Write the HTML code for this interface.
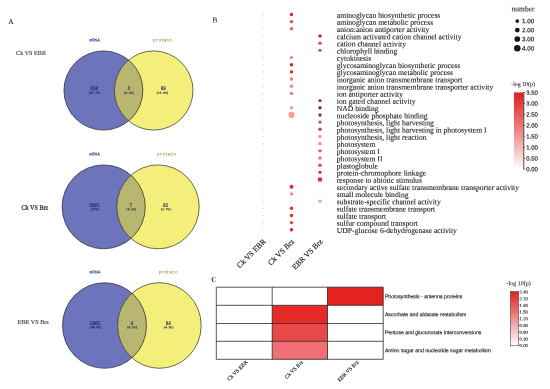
<!DOCTYPE html>
<html><head><meta charset="utf-8"><title>Figure</title>
<style>html,body{margin:0;padding:0;background:#fff}svg{display:block;text-rendering:geometricPrecision}.s{font-family:"Liberation Serif",serif}.a{font-family:"Liberation Sans",sans-serif}.m{font-family:"Liberation Mono",monospace}</style></head>
<body>
<svg width="550" height="389" viewBox="0 0 550 389">
<rect width="550" height="389" fill="#fff"/>
<text class="s" x="8.2" y="24" font-size="7.4" fill="#222" stroke="#222" stroke-width="0.12" transform="rotate(0.03 8.2 24)">A</text>
<text class="s" x="212.6" y="22.2" font-size="7.2" fill="#222" stroke="#222" stroke-width="0.12" transform="rotate(0.03 212.6 22.2)">B</text>
<text class="s" x="211.2" y="281.8" font-size="6.8" font-weight="bold" fill="#222" transform="rotate(0.03 211.2 281.8)">C</text>
<clipPath id="c0"><ellipse cx="153.7" cy="90.5" rx="39.3" ry="39.6"/></clipPath>
<ellipse cx="103.4" cy="90.5" rx="39.45" ry="39.6" fill="#6c74bb"/>
<ellipse cx="153.7" cy="90.5" rx="39.3" ry="39.6" fill="#f4ee7a"/>
<ellipse cx="103.4" cy="90.5" rx="39.45" ry="39.6" fill="#b9b672" clip-path="url(#c0)"/>
<ellipse cx="103.4" cy="90.5" rx="39.45" ry="39.6" fill="none" stroke="#20202c" stroke-width="0.7"/>
<ellipse cx="153.7" cy="90.5" rx="39.3" ry="39.6" fill="none" stroke="#2c2c1c" stroke-width="0.7"/>
<text class="s" x="16.1" y="55" font-size="6.15" fill="#333" stroke="#333" stroke-width="0.12" transform="rotate(0.03 16.1 55)">Ck VS EBR</text>
<text class="m" x="94.6" y="41.5" font-size="4.5" text-anchor="middle" fill="#3550a0" stroke="#3550a0" stroke-width="0.15" transform="rotate(0.03 94.6 41.5)">mRNA</text>
<text class="m" x="162.5" y="41.5" font-size="4.5" text-anchor="middle" fill="#a3a560" stroke="#a3a560" stroke-width="0.12" transform="rotate(0.03 162.5 41.5)">protein</text>
<text class="m" transform="translate(94.2,90.20) scale(0.77,1)" x="0" y="0" font-size="5.6" text-anchor="middle" fill="#26265c" stroke="#26265c" stroke-width="0.18">658</text>
<text class="m" x="94.5" y="93.80" font-size="2.9" font-weight="bold" text-anchor="middle" fill="#24243c" stroke="#24243c" stroke-width="0.08" transform="rotate(0.03 94.5 93.80)">(87.7%)</text>
<text class="m" transform="translate(128.8,90.20) scale(0.77,1)" x="0" y="0" font-size="5.6" text-anchor="middle" fill="#26265c" stroke="#26265c" stroke-width="0.18">3</text>
<text class="m" x="129.1" y="93.80" font-size="2.9" font-weight="bold" text-anchor="middle" fill="#24243c" stroke="#24243c" stroke-width="0.08" transform="rotate(0.03 129.1 93.80)">(0.4%)</text>
<text class="m" transform="translate(163.3,90.20) scale(0.77,1)" x="0" y="0" font-size="5.6" text-anchor="middle" fill="#26265c" stroke="#26265c" stroke-width="0.18">89</text>
<text class="m" x="162.4" y="93.80" font-size="2.9" font-weight="bold" text-anchor="middle" fill="#24243c" stroke="#24243c" stroke-width="0.08" transform="rotate(0.03 162.4 93.80)">(11.9%)</text>
<clipPath id="c1"><ellipse cx="158.0" cy="206.85" rx="41.2" ry="41.95"/></clipPath>
<ellipse cx="103.7" cy="206.85" rx="41.6" ry="41.95" fill="#6c74bb"/>
<ellipse cx="158.0" cy="206.85" rx="41.2" ry="41.95" fill="#f4ee7a"/>
<ellipse cx="103.7" cy="206.85" rx="41.6" ry="41.95" fill="#b9b672" clip-path="url(#c1)"/>
<ellipse cx="103.7" cy="206.85" rx="41.6" ry="41.95" fill="none" stroke="#20202c" stroke-width="0.7"/>
<ellipse cx="158.0" cy="206.85" rx="41.2" ry="41.95" fill="none" stroke="#2c2c1c" stroke-width="0.7"/>
<text class="s" x="21.5" y="209.5" font-size="6.15" fill="#333" stroke="#333" stroke-width="0.28" transform="rotate(0.03 21.5 209.5)">Ck VS Brz</text>
<text class="m" x="94.6" y="155.6" font-size="4.5" text-anchor="middle" fill="#3550a0" stroke="#3550a0" stroke-width="0.15" transform="rotate(0.03 94.6 155.6)">mRNA</text>
<text class="m" x="166.5" y="155.6" font-size="4.5" text-anchor="middle" fill="#a3a560" stroke="#a3a560" stroke-width="0.12" transform="rotate(0.03 166.5 155.6)">protein</text>
<text class="m" transform="translate(94.5,206.65) scale(0.77,1)" x="0" y="0" font-size="5.6" text-anchor="middle" fill="#26265c" stroke="#26265c" stroke-width="0.18">2981</text>
<text class="m" x="94.8" y="210.25" font-size="2.9" font-weight="bold" text-anchor="middle" fill="#24243c" stroke="#24243c" stroke-width="0.08" transform="rotate(0.03 94.8 210.25)">(97%)</text>
<text class="m" transform="translate(130.9,206.65) scale(0.77,1)" x="0" y="0" font-size="5.6" text-anchor="middle" fill="#26265c" stroke="#26265c" stroke-width="0.18">7</text>
<text class="m" x="131.2" y="210.25" font-size="2.9" font-weight="bold" text-anchor="middle" fill="#24243c" stroke="#24243c" stroke-width="0.08" transform="rotate(0.03 131.2 210.25)">(0.2%)</text>
<text class="m" transform="translate(165.5,206.65) scale(0.77,1)" x="0" y="0" font-size="5.6" text-anchor="middle" fill="#26265c" stroke="#26265c" stroke-width="0.18">82</text>
<text class="m" x="165.8" y="210.25" font-size="2.9" font-weight="bold" text-anchor="middle" fill="#24243c" stroke="#24243c" stroke-width="0.08" transform="rotate(0.03 165.8 210.25)">(2.7%)</text>
<clipPath id="c2"><ellipse cx="159.4" cy="325.5" rx="41.8" ry="42.8"/></clipPath>
<ellipse cx="104.5" cy="325.5" rx="42.0" ry="42.8" fill="#6c74bb"/>
<ellipse cx="159.4" cy="325.5" rx="41.8" ry="42.8" fill="#f4ee7a"/>
<ellipse cx="104.5" cy="325.5" rx="42.0" ry="42.8" fill="#b9b672" clip-path="url(#c2)"/>
<ellipse cx="104.5" cy="325.5" rx="42.0" ry="42.8" fill="none" stroke="#20202c" stroke-width="0.7"/>
<ellipse cx="159.4" cy="325.5" rx="41.8" ry="42.8" fill="none" stroke="#2c2c1c" stroke-width="0.7"/>
<text class="s" x="17.4" y="324.1" font-size="6.15" fill="#333" stroke="#333" stroke-width="0.12" transform="rotate(0.03 17.4 324.1)">EBR VS Brz</text>
<text class="m" x="95" y="273.4" font-size="4.5" text-anchor="middle" fill="#3550a0" stroke="#3550a0" stroke-width="0.15" transform="rotate(0.03 95 273.4)">mRNA</text>
<text class="m" x="168.2" y="273.4" font-size="4.5" text-anchor="middle" fill="#a3a560" stroke="#a3a560" stroke-width="0.12" transform="rotate(0.03 168.2 273.4)">protein</text>
<text class="m" transform="translate(95.0,324.70) scale(0.77,1)" x="0" y="0" font-size="5.6" text-anchor="middle" fill="#26265c" stroke="#26265c" stroke-width="0.18">1862</text>
<text class="m" x="95.3" y="328.30" font-size="2.9" font-weight="bold" text-anchor="middle" fill="#24243c" stroke="#24243c" stroke-width="0.08" transform="rotate(0.03 95.3 328.30)">(95.5%)</text>
<text class="m" transform="translate(131.8,324.70) scale(0.77,1)" x="0" y="0" font-size="5.6" text-anchor="middle" fill="#26265c" stroke="#26265c" stroke-width="0.18">4</text>
<text class="m" x="132.1" y="328.30" font-size="2.9" font-weight="bold" text-anchor="middle" fill="#24243c" stroke="#24243c" stroke-width="0.08" transform="rotate(0.03 132.1 328.30)">(0.2%)</text>
<text class="m" transform="translate(168.3,324.70) scale(0.77,1)" x="0" y="0" font-size="5.6" text-anchor="middle" fill="#26265c" stroke="#26265c" stroke-width="0.18">84</text>
<text class="m" x="168.6" y="328.30" font-size="2.9" font-weight="bold" text-anchor="middle" fill="#24243c" stroke="#24243c" stroke-width="0.08" transform="rotate(0.03 168.6 328.30)">(4.3%)</text>
<circle cx="263.1" cy="14.45" r="0.5" fill="#b8b8b8"/>
<circle cx="291.5" cy="14.45" r="1.7" fill="#e02020"/>
<text class="s" x="336.8" y="17.65" font-size="7.65" fill="#1a1a1a" stroke="#1a1a1a" stroke-width="0.1" transform="rotate(0.03 336.8 17.65)">aminoglycan biosynthetic process</text>
<circle cx="263.1" cy="21.63" r="0.5" fill="#b8b8b8"/>
<circle cx="291.5" cy="21.63" r="1.7" fill="#e64d4d"/>
<text class="s" x="336.8" y="24.83" font-size="7.65" fill="#1a1a1a" stroke="#1a1a1a" stroke-width="0.1" transform="rotate(0.03 336.8 24.83)">aminoglycan metabolic process</text>
<circle cx="263.1" cy="28.81" r="0.5" fill="#b8b8b8"/>
<circle cx="291.5" cy="28.81" r="1.7" fill="#e96363"/>
<text class="s" x="336.8" y="32.01" font-size="7.65" fill="#1a1a1a" stroke="#1a1a1a" stroke-width="0.1" transform="rotate(0.03 336.8 32.01)">anion:anion antiporter activity</text>
<circle cx="263.1" cy="35.98" r="0.5" fill="#b8b8b8"/>
<circle cx="320.0" cy="35.98" r="1.7" fill="#e02020"/>
<text class="s" x="336.8" y="39.18" font-size="7.65" fill="#1a1a1a" stroke="#1a1a1a" stroke-width="0.1" transform="rotate(0.03 336.8 39.18)">calcium activated cation channel activity</text>
<circle cx="263.1" cy="43.16" r="0.5" fill="#b8b8b8"/>
<circle cx="320.0" cy="43.16" r="1.7" fill="#e54141"/>
<text class="s" x="336.8" y="46.36" font-size="7.65" fill="#1a1a1a" stroke="#1a1a1a" stroke-width="0.1" transform="rotate(0.03 336.8 46.36)">cation channel activity</text>
<circle cx="263.1" cy="50.34" r="0.5" fill="#b8b8b8"/>
<circle cx="320.0" cy="50.34" r="1.7" fill="#e64d4d"/>
<text class="s" x="336.8" y="53.54" font-size="7.65" fill="#1a1a1a" stroke="#1a1a1a" stroke-width="0.1" transform="rotate(0.03 336.8 53.54)">chlorophyll binding</text>
<circle cx="263.1" cy="57.52" r="0.5" fill="#b8b8b8"/>
<circle cx="291.5" cy="57.52" r="1.7" fill="#f09090"/>
<text class="s" x="336.8" y="60.72" font-size="7.65" fill="#1a1a1a" stroke="#1a1a1a" stroke-width="0.1" transform="rotate(0.03 336.8 60.72)">cytokinesis</text>
<circle cx="263.1" cy="64.7" r="0.5" fill="#b8b8b8"/>
<circle cx="291.5" cy="64.7" r="1.7" fill="#e02020"/>
<text class="s" x="336.8" y="67.9" font-size="7.65" fill="#1a1a1a" stroke="#1a1a1a" stroke-width="0.1" transform="rotate(0.03 336.8 67.9)">glycosaminoglycan biosynthetic process</text>
<circle cx="263.1" cy="71.87" r="0.5" fill="#b8b8b8"/>
<circle cx="291.5" cy="71.87" r="1.7" fill="#e02020"/>
<text class="s" x="336.8" y="75.07" font-size="7.65" fill="#1a1a1a" stroke="#1a1a1a" stroke-width="0.1" transform="rotate(0.03 336.8 75.07)">glycosaminoglycan metabolic process</text>
<circle cx="263.1" cy="79.05" r="0.5" fill="#b8b8b8"/>
<circle cx="291.5" cy="79.05" r="1.7" fill="#ec7979"/>
<text class="s" x="336.8" y="82.25" font-size="7.65" fill="#1a1a1a" stroke="#1a1a1a" stroke-width="0.1" transform="rotate(0.03 336.8 82.25)">inorganic anion transmembrane transport</text>
<circle cx="263.1" cy="86.23" r="0.5" fill="#b8b8b8"/>
<circle cx="291.5" cy="86.23" r="1.7" fill="#ee8484"/>
<text class="s" x="336.8" y="89.43" font-size="7.65" fill="#1a1a1a" stroke="#1a1a1a" stroke-width="0.1" transform="rotate(0.03 336.8 89.43)">inorganic anion transmembrane transporter activity</text>
<circle cx="263.1" cy="93.41" r="0.5" fill="#b8b8b8"/>
<circle cx="291.5" cy="93.41" r="1.7" fill="#ec7979"/>
<text class="s" x="336.8" y="96.61" font-size="7.65" fill="#1a1a1a" stroke="#1a1a1a" stroke-width="0.1" transform="rotate(0.03 336.8 96.61)">ion antiporter activity</text>
<circle cx="263.1" cy="100.59" r="0.5" fill="#b8b8b8"/>
<circle cx="320.0" cy="100.59" r="1.7" fill="#e02020"/>
<text class="s" x="336.8" y="103.79" font-size="7.65" fill="#1a1a1a" stroke="#1a1a1a" stroke-width="0.1" transform="rotate(0.03 336.8 103.79)">ion gated channel activity</text>
<circle cx="263.1" cy="107.76" r="0.5" fill="#b8b8b8"/>
<circle cx="291.5" cy="107.76" r="1.7" fill="#f19b9b"/>
<circle cx="320.0" cy="107.76" r="1.7" fill="#4a4a4a"/>
<text class="s" x="336.8" y="110.96" font-size="7.65" fill="#1a1a1a" stroke="#1a1a1a" stroke-width="0.1" transform="rotate(0.03 336.8 110.96)">NAD binding</text>
<circle cx="263.1" cy="114.94" r="0.5" fill="#b8b8b8"/>
<circle cx="291.5" cy="114.94" r="3.1" fill="#f2a1a1"/>
<circle cx="320.0" cy="114.94" r="1.7" fill="#4a4a4a"/>
<text class="s" x="336.8" y="118.14" font-size="7.65" fill="#1a1a1a" stroke="#1a1a1a" stroke-width="0.1" transform="rotate(0.03 336.8 118.14)">nucleoside phosphate binding</text>
<circle cx="263.1" cy="122.12" r="0.5" fill="#b8b8b8"/>
<circle cx="320.0" cy="122.12" r="1.7" fill="#e54141"/>
<text class="s" x="336.8" y="125.32" font-size="7.65" fill="#1a1a1a" stroke="#1a1a1a" stroke-width="0.1" transform="rotate(0.03 336.8 125.32)">photosynthesis, light harvesting</text>
<circle cx="263.1" cy="129.3" r="0.5" fill="#b8b8b8"/>
<circle cx="320.0" cy="129.3" r="1.7" fill="#e33636"/>
<text class="s" x="336.8" y="132.5" font-size="7.65" fill="#1a1a1a" stroke="#1a1a1a" stroke-width="0.1" transform="rotate(0.03 336.8 132.5)">photosynthesis, light harvesting in photosystem I</text>
<circle cx="263.1" cy="136.48" r="0.5" fill="#b8b8b8"/>
<circle cx="320.0" cy="136.48" r="1.7" fill="#f09090"/>
<text class="s" x="336.8" y="139.68" font-size="7.65" fill="#1a1a1a" stroke="#1a1a1a" stroke-width="0.1" transform="rotate(0.03 336.8 139.68)">photosynthesis, light reaction</text>
<circle cx="263.1" cy="143.65" r="0.5" fill="#b8b8b8"/>
<circle cx="320.0" cy="143.65" r="1.7" fill="#f09090"/>
<text class="s" x="336.8" y="146.85" font-size="7.65" fill="#1a1a1a" stroke="#1a1a1a" stroke-width="0.1" transform="rotate(0.03 336.8 146.85)">photosystem</text>
<circle cx="263.1" cy="150.83" r="0.5" fill="#b8b8b8"/>
<circle cx="320.0" cy="150.83" r="1.7" fill="#e85858"/>
<text class="s" x="336.8" y="154.03" font-size="7.65" fill="#1a1a1a" stroke="#1a1a1a" stroke-width="0.1" transform="rotate(0.03 336.8 154.03)">photosystem I</text>
<circle cx="263.1" cy="158.01" r="0.5" fill="#b8b8b8"/>
<circle cx="320.0" cy="158.01" r="1.7" fill="#eb6e6e"/>
<text class="s" x="336.8" y="161.21" font-size="7.65" fill="#1a1a1a" stroke="#1a1a1a" stroke-width="0.1" transform="rotate(0.03 336.8 161.21)">photosystem II</text>
<circle cx="263.1" cy="165.19" r="0.5" fill="#b8b8b8"/>
<circle cx="320.0" cy="165.19" r="1.7" fill="#e54141"/>
<text class="s" x="336.8" y="168.39" font-size="7.65" fill="#1a1a1a" stroke="#1a1a1a" stroke-width="0.1" transform="rotate(0.03 336.8 168.39)">plastoglobule</text>
<circle cx="263.1" cy="172.37" r="0.5" fill="#b8b8b8"/>
<circle cx="320.0" cy="172.37" r="1.7" fill="#e33636"/>
<text class="s" x="336.8" y="175.57" font-size="7.65" fill="#1a1a1a" stroke="#1a1a1a" stroke-width="0.1" transform="rotate(0.03 336.8 175.57)">protein-chromophore linkage</text>
<circle cx="263.1" cy="179.54" r="0.5" fill="#b8b8b8"/>
<circle cx="320.0" cy="179.54" r="2.3" fill="#e22b2b"/>
<text class="s" x="336.8" y="182.74" font-size="7.65" fill="#1a1a1a" stroke="#1a1a1a" stroke-width="0.1" transform="rotate(0.03 336.8 182.74)">response to abiotic stimulus</text>
<circle cx="263.1" cy="186.72" r="0.5" fill="#b8b8b8"/>
<circle cx="291.5" cy="186.72" r="1.95" fill="#e22b2b"/>
<text class="s" x="336.8" y="189.92" font-size="7.65" fill="#1a1a1a" stroke="#1a1a1a" stroke-width="0.1" transform="rotate(0.03 336.8 189.92)">secondary active sulfate transmembrane transporter activity</text>
<circle cx="263.1" cy="193.9" r="0.5" fill="#b8b8b8"/>
<circle cx="291.5" cy="193.9" r="1.7" fill="#f09090"/>
<text class="s" x="336.8" y="197.1" font-size="7.65" fill="#1a1a1a" stroke="#1a1a1a" stroke-width="0.1" transform="rotate(0.03 336.8 197.1)">small molecule binding</text>
<circle cx="263.1" cy="201.08" r="0.5" fill="#b8b8b8"/>
<circle cx="320.0" cy="201.08" r="1.7" fill="#f19b9b"/>
<text class="s" x="336.8" y="204.28" font-size="7.65" fill="#1a1a1a" stroke="#1a1a1a" stroke-width="0.1" transform="rotate(0.03 336.8 204.28)">substrate-specific channel activity</text>
<circle cx="263.1" cy="208.26" r="0.5" fill="#b8b8b8"/>
<circle cx="291.5" cy="208.26" r="1.7" fill="#e22b2b"/>
<text class="s" x="336.8" y="211.46" font-size="7.65" fill="#1a1a1a" stroke="#1a1a1a" stroke-width="0.1" transform="rotate(0.03 336.8 211.46)">sulfate transmembrane transport</text>
<circle cx="263.1" cy="215.43" r="0.5" fill="#b8b8b8"/>
<circle cx="291.5" cy="215.43" r="1.7" fill="#e22b2b"/>
<text class="s" x="336.8" y="218.63" font-size="7.65" fill="#1a1a1a" stroke="#1a1a1a" stroke-width="0.1" transform="rotate(0.03 336.8 218.63)">sulfate transport</text>
<circle cx="263.1" cy="222.61" r="0.5" fill="#b8b8b8"/>
<circle cx="291.5" cy="222.61" r="1.7" fill="#e54141"/>
<text class="s" x="336.8" y="225.81" font-size="7.65" fill="#1a1a1a" stroke="#1a1a1a" stroke-width="0.1" transform="rotate(0.03 336.8 225.81)">sulfur compound transport</text>
<circle cx="263.1" cy="229.79" r="0.5" fill="#b8b8b8"/>
<circle cx="291.5" cy="229.79" r="1.7" fill="#e02020"/>
<text class="s" x="336.8" y="232.99" font-size="7.65" fill="#1a1a1a" stroke="#1a1a1a" stroke-width="0.1" transform="rotate(0.03 336.8 232.99)">UDP-glucose 6-dehydrogenase activity</text>
<text class="s" transform="translate(264.5,240.2) rotate(-45)" text-anchor="end" font-size="7.7" fill="#222" stroke="#222" stroke-width="0.15" x="0" y="2.5">Ck VS EBR</text>
<text class="s" transform="translate(292.9,240.2) rotate(-45)" text-anchor="end" font-size="7.7" fill="#222" stroke="#222" stroke-width="0.15" x="0" y="2.5">Ck VS Brz</text>
<text class="s" transform="translate(321.4,240.2) rotate(-45)" text-anchor="end" font-size="7.7" fill="#222" stroke="#222" stroke-width="0.15" x="0" y="2.5">EBR VS Brz</text>
<text class="s" x="511.6" y="11.2" font-size="7.5" fill="#222" stroke="#222" stroke-width="0.1" transform="rotate(0.03 511.6 11.2)">number</text>
<circle cx="517.3" cy="21.1" r="1.85" fill="#1a1414"/>
<text class="a" x="522" y="23.35" font-size="6.25" fill="#222" stroke="#222" stroke-width="0.2" transform="rotate(0.03 522 23.35)">1.00</text>
<circle cx="517.3" cy="30.05" r="2.4" fill="#1a1414"/>
<text class="a" x="522" y="32.3" font-size="6.25" fill="#222" stroke="#222" stroke-width="0.2" transform="rotate(0.03 522 32.3)">2.00</text>
<circle cx="517.3" cy="39" r="2.85" fill="#1a1414"/>
<text class="a" x="522" y="41.25" font-size="6.25" fill="#222" stroke="#222" stroke-width="0.2" transform="rotate(0.03 522 41.25)">3.00</text>
<circle cx="517.3" cy="48.2" r="3.25" fill="#1a1414"/>
<text class="a" x="522" y="50.45" font-size="6.25" fill="#222" stroke="#222" stroke-width="0.2" transform="rotate(0.03 522 50.45)">4.00</text>
<defs><linearGradient id="g1" x1="0" y1="0" x2="0" y2="1"><stop offset="0" stop-color="#e02020"/><stop offset="0.5" stop-color="#ee8585"/><stop offset="1" stop-color="#ffffff"/></linearGradient><linearGradient id="g2" x1="0" y1="0" x2="0" y2="1"><stop offset="0" stop-color="#e02020"/><stop offset="1" stop-color="#ffffff"/></linearGradient></defs>
<text class="s" x="511.2" y="86" font-size="5.9" fill="#222" stroke="#222" stroke-width="0.08" transform="rotate(0.03 511.2 86)">-log 10(p)</text>
<rect x="513.9" y="92.4" width="9.7" height="76.8" fill="url(#g1)"/>
<path d="M523.8 92.2V169.4" stroke="#222" stroke-width="0.8" fill="none"/>
<path d="M523.8 92.50h1.4" stroke="#222" stroke-width="0.6"/>
<text class="a" x="526.2" y="94.65" font-size="5.95" fill="#222" stroke="#222" stroke-width="0.18" transform="rotate(0.03 526.2 94.65)">3.50</text>
<path d="M523.8 103.46h1.4" stroke="#222" stroke-width="0.6"/>
<text class="a" x="526.2" y="105.61" font-size="5.95" fill="#222" stroke="#222" stroke-width="0.18" transform="rotate(0.03 526.2 105.61)">3.00</text>
<path d="M523.8 114.42h1.4" stroke="#222" stroke-width="0.6"/>
<text class="a" x="526.2" y="116.57" font-size="5.95" fill="#222" stroke="#222" stroke-width="0.18" transform="rotate(0.03 526.2 116.57)">2.50</text>
<path d="M523.8 125.38h1.4" stroke="#222" stroke-width="0.6"/>
<text class="a" x="526.2" y="127.53" font-size="5.95" fill="#222" stroke="#222" stroke-width="0.18" transform="rotate(0.03 526.2 127.53)">2.00</text>
<path d="M523.8 136.34h1.4" stroke="#222" stroke-width="0.6"/>
<text class="a" x="526.2" y="138.49" font-size="5.95" fill="#222" stroke="#222" stroke-width="0.18" transform="rotate(0.03 526.2 138.49)">1.50</text>
<path d="M523.8 147.30h1.4" stroke="#222" stroke-width="0.6"/>
<text class="a" x="526.2" y="149.45" font-size="5.95" fill="#222" stroke="#222" stroke-width="0.18" transform="rotate(0.03 526.2 149.45)">1.00</text>
<path d="M523.8 158.26h1.4" stroke="#222" stroke-width="0.6"/>
<text class="a" x="526.2" y="160.41" font-size="5.95" fill="#222" stroke="#222" stroke-width="0.18" transform="rotate(0.03 526.2 160.41)">0.50</text>
<path d="M523.8 169.22h1.4" stroke="#222" stroke-width="0.6"/>
<text class="a" x="526.2" y="171.37" font-size="5.95" fill="#222" stroke="#222" stroke-width="0.18" transform="rotate(0.03 526.2 171.37)">0.00</text>
<rect x="327.5" y="287.2" width="55.70" height="18.10" fill="#e4231f"/>
<rect x="272.2" y="305.3" width="55.30" height="18.20" fill="#e52a27"/>
<rect x="272.2" y="323.5" width="55.30" height="17.80" fill="#e84848"/>
<rect x="272.2" y="341.3" width="55.30" height="18.00" fill="#ee7072"/>
<path d="M216.3 287.2V359.3M272.2 287.2V359.3M327.5 287.2V359.3M383.2 287.2V359.3M216.3 287.2H383.2M216.3 305.3H383.2M216.3 323.5H383.2M216.3 341.3H383.2M216.3 359.3H383.2" stroke="#1e1e1e" stroke-width="0.75" fill="none"/>
<text class="a" x="384.9" y="298.15" font-size="5.35" fill="#1a1a1a" stroke="#1a1a1a" stroke-width="0.14" textLength="77.4" lengthAdjust="spacingAndGlyphs" transform="rotate(0.03 384.9 298.15)">Photosynthesis - antenna proteins</text>
<text class="a" x="384.9" y="316.30" font-size="5.35" fill="#1a1a1a" stroke="#1a1a1a" stroke-width="0.14" textLength="81.5" lengthAdjust="spacingAndGlyphs" transform="rotate(0.03 384.9 316.30)">Ascorbate and aldarate metabolism</text>
<text class="a" x="384.9" y="334.30" font-size="5.35" fill="#1a1a1a" stroke="#1a1a1a" stroke-width="0.14" textLength="96.5" lengthAdjust="spacingAndGlyphs" transform="rotate(0.03 384.9 334.30)">Pentose and glucuronate interconversions</text>
<text class="a" x="384.9" y="352.20" font-size="5.35" fill="#1a1a1a" stroke="#1a1a1a" stroke-width="0.14" textLength="105.8" lengthAdjust="spacingAndGlyphs" transform="rotate(0.03 384.9 352.20)">Amino sugar and nucleotide sugar metabolism</text>
<text class="s" transform="translate(246.65,361.2) rotate(-45)" text-anchor="end" font-size="5.4" fill="#222" stroke="#222" stroke-width="0.12" x="0" y="1.8">Ck VS EBR</text>
<text class="s" transform="translate(302.25,361.2) rotate(-45)" text-anchor="end" font-size="5.4" fill="#222" stroke="#222" stroke-width="0.12" x="0" y="1.8">Ck VS Brz</text>
<text class="s" transform="translate(357.75,361.2) rotate(-45)" text-anchor="end" font-size="5.4" fill="#222" stroke="#222" stroke-width="0.12" x="0" y="1.8">EBR VS Brz</text>
<text class="s" x="506.6" y="285.2" font-size="6" fill="#222" stroke="#222" stroke-width="0.08" transform="rotate(0.03 506.6 285.2)">-log 10(p)</text>
<rect x="510.5" y="291.6" width="7.9" height="54.2" fill="url(#g2)" stroke="#222" stroke-width="0.5"/>
<path d="M518.4 292.00h0.9" stroke="#222" stroke-width="0.45"/>
<text class="a" x="519.6" y="293.50" font-size="4.25" fill="#222" stroke="#222" stroke-width="0.12" transform="rotate(0.03 519.6 293.50)">2.40</text>
<path d="M518.4 298.70h0.9" stroke="#222" stroke-width="0.45"/>
<text class="a" x="519.6" y="300.20" font-size="4.25" fill="#222" stroke="#222" stroke-width="0.12" transform="rotate(0.03 519.6 300.20)">2.10</text>
<path d="M518.4 305.40h0.9" stroke="#222" stroke-width="0.45"/>
<text class="a" x="519.6" y="306.90" font-size="4.25" fill="#222" stroke="#222" stroke-width="0.12" transform="rotate(0.03 519.6 306.90)">1.80</text>
<path d="M518.4 312.10h0.9" stroke="#222" stroke-width="0.45"/>
<text class="a" x="519.6" y="313.60" font-size="4.25" fill="#222" stroke="#222" stroke-width="0.12" transform="rotate(0.03 519.6 313.60)">1.50</text>
<path d="M518.4 318.80h0.9" stroke="#222" stroke-width="0.45"/>
<text class="a" x="519.6" y="320.30" font-size="4.25" fill="#222" stroke="#222" stroke-width="0.12" transform="rotate(0.03 519.6 320.30)">1.20</text>
<path d="M518.4 325.50h0.9" stroke="#222" stroke-width="0.45"/>
<text class="a" x="519.6" y="327.00" font-size="4.25" fill="#222" stroke="#222" stroke-width="0.12" transform="rotate(0.03 519.6 327.00)">0.90</text>
<path d="M518.4 332.20h0.9" stroke="#222" stroke-width="0.45"/>
<text class="a" x="519.6" y="333.70" font-size="4.25" fill="#222" stroke="#222" stroke-width="0.12" transform="rotate(0.03 519.6 333.70)">0.60</text>
<path d="M518.4 338.90h0.9" stroke="#222" stroke-width="0.45"/>
<text class="a" x="519.6" y="340.40" font-size="4.25" fill="#222" stroke="#222" stroke-width="0.12" transform="rotate(0.03 519.6 340.40)">0.30</text>
<path d="M518.4 345.60h0.9" stroke="#222" stroke-width="0.45"/>
<text class="a" x="519.6" y="347.10" font-size="4.25" fill="#222" stroke="#222" stroke-width="0.12" transform="rotate(0.03 519.6 347.10)">0.00</text>
</svg>
</body></html>
